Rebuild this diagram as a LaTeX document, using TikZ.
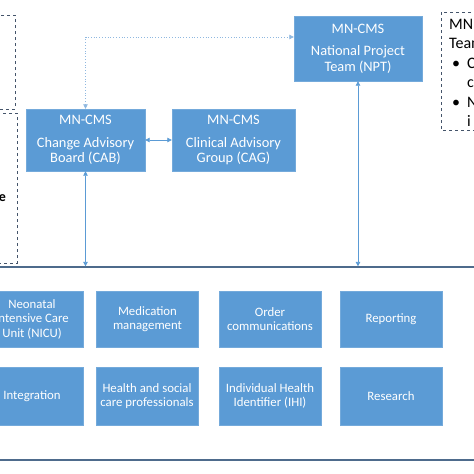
\documentclass[tikz,border=0pt]{standalone}
\usepackage{fontspec}
\setmainfont{Carlito}
\usepackage{tikz}
\usetikzlibrary{arrows.meta}

\definecolor{boxblue}{HTML}{5B9BD5}
\definecolor{lineblue}{HTML}{5B9BD5}
\definecolor{dotblue}{HTML}{8FB8E0}
\definecolor{framecol}{HTML}{4E6B8C}
\definecolor{dashcol}{HTML}{44546A}

\begin{document}
\begin{tikzpicture}[x=1pt,y=-1pt]
      \tikzstyle{bluebox}=[rectangle,fill=boxblue,draw=boxblue!85!white,text=white,align=center,inner sep=0pt]
      \tikzstyle{topbox}=[bluebox,font=\fontsize{14.4}{15.5}\selectfont]
      \tikzstyle{lowbox}=[bluebox,font=\fontsize{12.8}{14.5}\selectfont,minimum width=102pt]
      \tikzstyle{link}=[draw=lineblue,line width=0.8pt,{Triangle[length=4.5pt,width=4.5pt]}-{Triangle[length=4.5pt,width=4.5pt]}]
      \tikzstyle{dotlink}=[link,draw=dotblue,dotted]
      \tikzstyle{dashbox}=[draw=dashcol,dashed,line width=0.9pt]
      \useasboundingbox (0,0) rectangle (474,474);
      \clip (0,0) rectangle (474,474);
      \node[rectangle,draw=framecol,line width=1.3pt,minimum width=500pt,minimum height=193pt] (frame) at (237,363.5) {};
      \node[topbox,minimum width=119pt,minimum height=62pt] (cab) at (85.5,140) {MN-CMS\\[7pt]Change Advisory\\Board (CAB)};
      \node[topbox,minimum width=123pt,minimum height=62pt] (cag) at (233.5,140) {MN-CMS\\[7pt]Clinical Advisory\\Group (CAG)};
      \node[topbox,minimum width=128pt,minimum height=65pt] (npt) at (358,48.5) {MN-CMS\\[7pt]National Project\\Team (NPT)};
      \node[lowbox,minimum height=56pt] (nicu) at (32,319) {Neonatal\\Intensive Care\\Unit (NICU)};
      \node[lowbox,minimum height=56pt] (medic) at (147.5,319) {Medication\\management};
      \node[lowbox,minimum height=56pt] (order) at (270,319) {Order\\communications};
      \node[lowbox,minimum height=56pt] (report) at (391,319) {Reporting};
      \node[lowbox,minimum height=58pt] (integ) at (32,396) {Integration};
      \node[lowbox,minimum height=58pt] (hscp) at (147,396) {Health and social\\care professionals};
      \node[lowbox,minimum height=58pt] (ihi) at (270,396) {Individual Health\\Identifier (IHI)};
      \node[lowbox,minimum height=58pt] (research) at (391,396) {Research};
      \coordinate (bend) at (85.5,37);
      \draw[dotlink] (cab.north) -- (bend) -- (bend -| npt.west);
      \draw[link] (cab.east) -- (cag.west);
      \draw[link] (cab.south) -- (cab.south |- frame.north);
      \draw[link] (npt.south) -- (npt.south |- frame.north);
      \draw[dashbox] (-20,15) rectangle (15,109);
      \draw[dashbox] (-20,113) rectangle (17,263);
      \draw[dashbox] (441,12) rectangle (500,130);
      \node[anchor=east,inner sep=0pt,font=\fontsize{14}{16}\selectfont\bfseries] (lefttxt) at (6,198) {e};
      \node[anchor=north west,inner sep=0pt,align=left,font=\fontsize{16}{19.5}\selectfont] (righttxt) at (449,19)
        {MN\\Team\\\makebox[18pt][l]{\hspace{3pt}\textbullet}C\\\hspace{18pt}c\\\makebox[18pt][l]{\hspace{3pt}\textbullet}N\\\hspace{18pt}i};
\end{tikzpicture}
\end{document}
